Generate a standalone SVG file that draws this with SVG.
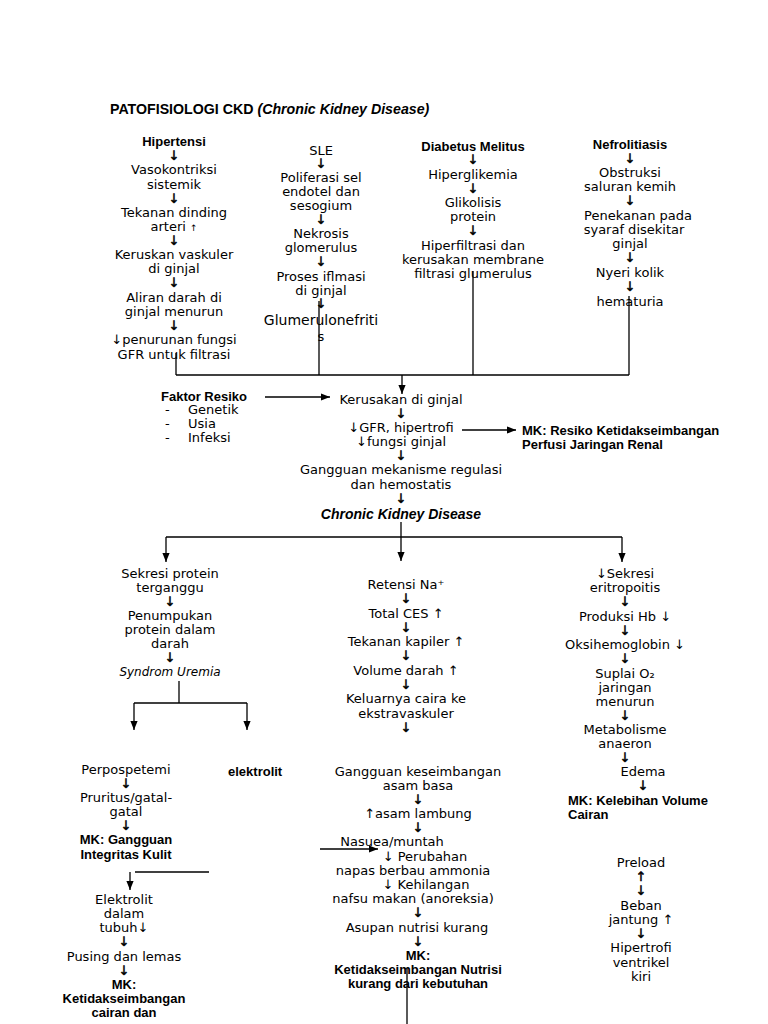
<svg xmlns="http://www.w3.org/2000/svg" width="768" height="1024" viewBox="0 0 768 1024">
<style>
.t{font-family:"DejaVu Sans",sans-serif;font-size:13px;text-anchor:middle;fill:#000}
.a{font-family:"DejaVu Sans",sans-serif;font-size:13px;text-anchor:middle;fill:#000;stroke:#000;stroke-width:0.5;text-rendering:geometricPrecision}
.l{font-family:"DejaVu Sans",sans-serif;font-size:13px;fill:#000}
.b{font-family:"Liberation Sans",Arial,sans-serif;font-weight:bold;font-size:13px;text-anchor:middle;fill:#000}
.bl{font-family:"Liberation Sans",Arial,sans-serif;font-weight:bold;font-size:13px;fill:#000}
.c{stroke:#000;stroke-width:1.3;fill:none}
</style>
<defs>
<marker id="ah" viewBox="0 0 10 8" refX="10" refY="4" markerWidth="9" markerHeight="8" orient="auto" markerUnits="userSpaceOnUse">
<path d="M0,0 L10,4 L0,8 z" fill="#000"/>
</marker>
</defs>
<rect width="768" height="1024" fill="#fff"/>
<g id="title">
<text x="110" y="114" class="bl" style="font-size:14.2px">PATOFISIOLOGI CKD <tspan font-style="italic">(Chronic Kidney Disease)</tspan></text>
</g>

<g id="hipertensi">
<text x="174" y="146" class="b">Hipertensi</text>
<text class="a" x="174" y="160">↓</text>
<text class="t" x="174" y="174">Vasokontriksi</text>
<text class="t" x="174" y="189">sistemik</text>
<text class="a" x="174" y="203">↓</text>
<text class="t" x="174" y="217">Tekanan dinding</text>
<text class="t" x="174" y="231">arteri <tspan font-size="9">↑</tspan></text>
<text class="a" x="174" y="245">↓</text>
<text class="t" x="174" y="259">Keruskan vaskuler</text>
<text class="t" x="174" y="273">di ginjal</text>
<text class="a" x="174" y="287">↓</text>
<text class="t" x="174" y="302">Aliran darah di</text>
<text class="t" x="174" y="316">ginjal menurun</text>
<text class="a" x="174" y="330">↓</text>
<text class="t" x="174" y="344">↓penurunan fungsi</text>
<text class="t" x="174" y="359">GFR untuk filtrasi</text>
</g>

<g id="sle">
<text class="t" x="321" y="155">SLE</text>
<text class="a" x="321" y="168">↓</text>
<text class="t" x="321" y="182">Poliferasi sel</text>
<text class="t" x="321" y="196">endotel dan</text>
<text class="t" x="321" y="210">sesogium</text>
<text class="a" x="321" y="224">↓</text>
<text class="t" x="321" y="238">Nekrosis</text>
<text class="t" x="321" y="252">glomerulus</text>
<text class="a" x="321" y="266">↓</text>
<text class="t" x="321" y="281">Proses iflmasi</text>
<text class="t" x="321" y="295">di ginjal</text>
<text class="a" x="321" y="308">↓</text>
<text class="t" x="321" y="325" style="font-size:14px">Glumerulonefriti</text>
<text class="t" x="321" y="341">s</text>
</g>

<g id="diabetes">
<text x="473" y="151" class="b">Diabetus Melitus</text>
<text class="a" x="473" y="164">↓</text>
<text class="t" x="473" y="179">Hiperglikemia</text>
<text class="a" x="473" y="193">↓</text>
<text class="t" x="473" y="207">Glikolisis</text>
<text class="t" x="473" y="221">protein</text>
<text class="a" x="473" y="235">↓</text>
<text class="t" x="473" y="250">Hiperfiltrasi dan</text>
<text class="t" x="473" y="264">kerusakan membrane</text>
<text class="t" x="473" y="278">filtrasi glumerulus</text>
</g>

<g id="nefrolitiasis">
<text x="630" y="149" class="b">Nefrolitiasis</text>
<text class="a" x="630" y="163">↓</text>
<text class="t" x="630" y="177">Obstruksi</text>
<text class="t" x="630" y="191">saluran kemih</text>
<text class="a" x="630" y="205">↓</text>
<text class="t" x="638" y="220">Penekanan pada</text>
<text class="t" x="634" y="234">syaraf disekitar</text>
<text class="t" x="630" y="248">ginjal</text>
<text class="a" x="630" y="262">↓</text>
<text class="t" x="630" y="277">Nyeri kolik</text>
<text class="a" x="630" y="291">↓</text>
<text class="t" x="630" y="306">hematuria</text>
</g>

<g id="faktor">
<text x="161" y="401" class="bl">Faktor Resiko</text>
<text class="l" x="165" y="414">-</text><text class="l" x="188" y="414">Genetik</text>
<text class="l" x="165" y="428">-</text><text class="l" x="188" y="428">Usia</text>
<text class="l" x="165" y="442">-</text><text class="l" x="188" y="442">Infeksi</text>
</g>

<g id="kerusakan">
<text class="t" x="401" y="404">Kerusakan di ginjal</text>
<text class="a" x="401" y="418">↓</text>
<text class="t" x="401" y="432">↓GFR, hipertrofi</text>
<text class="t" x="401" y="446">↓fungsi ginjal</text>
<text class="a" x="401" y="460">↓</text>
<text class="t" x="401" y="474">Gangguan mekanisme regulasi</text>
<text class="t" x="401" y="489">dan hemostatis</text>
<text class="a" x="401" y="503">↓</text>
<text x="401" y="519" class="b" font-style="italic" style="font-size:14px">Chronic Kidney Disease</text>
</g>

<g id="mk-perfusi">
<text x="522" y="435" class="bl">MK: Resiko Ketidakseimbangan</text>
<text x="522" y="449" class="bl">Perfusi Jaringan Renal</text>
</g>

<g id="uremia">
<text class="t" x="170" y="578">Sekresi protein</text>
<text class="t" x="170" y="592">terganggu</text>
<text class="a" x="170" y="606">↓</text>
<text class="t" x="170" y="620">Penumpukan</text>
<text class="t" x="170" y="634">protein dalam</text>
<text class="t" x="170" y="648">darah</text>
<text class="a" x="170" y="662">↓</text>
<text class="t" x="170" y="676" font-style="italic" style="font-size:12px">Syndrom Uremia</text>
</g>

<g id="retensi">
<text class="t" x="406" y="589">Retensi Na⁺</text>
<text class="a" x="406" y="603">↓</text>
<text class="t" x="406" y="618">Total CES ↑</text>
<text class="a" x="406" y="632">↓</text>
<text class="t" x="406" y="646">Tekanan kapiler ↑</text>
<text class="a" x="406" y="660">↓</text>
<text class="t" x="406" y="675">Volume darah ↑</text>
<text class="a" x="406" y="689">↓</text>
<text class="t" x="406" y="703">Keluarnya caira ke</text>
<text class="t" x="406" y="718">ekstravaskuler</text>
<text class="a" x="406" y="732">↓</text>
</g>

<g id="eritropoitis">
<text class="t" x="625" y="578">↓Sekresi</text>
<text class="t" x="625" y="592">eritropoitis</text>
<text class="a" x="625" y="606">↓</text>
<text class="t" x="625" y="621">Produksi Hb ↓</text>
<text class="a" x="625" y="635">↓</text>
<text class="t" x="625" y="649">Oksihemoglobin ↓</text>
<text class="a" x="625" y="663">↓</text>
<text class="t" x="625" y="678">Suplai O₂</text>
<text class="t" x="625" y="692">jaringan</text>
<text class="t" x="625" y="706">menurun</text>
<text class="a" x="625" y="720">↓</text>
<text class="t" x="625" y="734">Metabolisme</text>
<text class="t" x="625" y="748">anaeron</text>
<text class="a" x="625" y="762">↓</text>
<text class="t" x="643" y="776">Edema</text>
<text class="a" x="643" y="790">↓</text>
<text x="568" y="805" class="bl">MK: Kelebihan Volume</text>
<text x="568" y="819" class="bl">Cairan</text>
</g>

<g id="perpospetemi">
<text class="t" x="126" y="774">Perpospetemi</text>
<text class="a" x="126" y="788">↓</text>
<text class="t" x="126" y="802">Pruritus/gatal-</text>
<text class="t" x="126" y="816">gatal</text>
<text class="a" x="126" y="830">↓</text>
<text x="126" y="844" class="b">MK: Gangguan</text>
<text x="126" y="859" class="b">Integritas Kulit</text>
</g>

<g id="elektrolit">
<text x="228" y="776" class="bl">elektrolit</text>
</g>

<g id="elektrolit-tubuh">
<text class="t" x="124" y="904">Elektrolit</text>
<text class="t" x="124" y="918">dalam</text>
<text class="t" x="124" y="932">tubuh↓</text>
<text class="a" x="124" y="946">↓</text>
<text class="t" x="124" y="961">Pusing dan lemas</text>
<text class="a" x="124" y="975">↓</text>
<text x="124" y="989" class="b">MK:</text>
<text x="124" y="1003" class="b">Ketidakseimbangan</text>
<text x="124" y="1017" class="b">cairan dan</text>
</g>

<g id="asam-basa">
<text class="t" x="418" y="776">Gangguan keseimbangan</text>
<text class="t" x="418" y="790">asam basa</text>
<text class="a" x="418" y="804">↓</text>
<text class="t" x="418" y="818">↑asam lambung</text>
<text class="a" x="418" y="832">↓</text>
<text class="t" x="392" y="846">Nasuea/muntah</text>
<text class="t" x="425" y="861">↓ Perubahan</text>
<text class="t" x="413" y="875">napas berbau ammonia</text>
<text class="t" x="426" y="889">↓ Kehilangan</text>
<text class="t" x="413" y="903">nafsu makan (anoreksia)</text>
<text class="a" x="418" y="917">↓</text>
<text class="t" x="417" y="932">Asupan nutrisi kurang</text>
<text class="a" x="418" y="946">↓</text>
<text x="418" y="960" class="b">MK:</text>
<text x="418" y="974" class="b">Ketidakseimbangan Nutrisi</text>
<text x="418" y="988" class="b">kurang dari kebutuhan</text>
</g>

<g id="preload">
<text class="t" x="641" y="867">Preload</text>
<text class="a" x="641" y="881">↑</text>
<text class="a" x="641" y="895">↓</text>
<text class="t" x="641" y="910">Beban</text>
<text class="t" x="641" y="924">jantung ↑</text>
<text class="a" x="641" y="938">↓</text>
<text class="t" x="641" y="952">Hipertrofi</text>
<text class="t" x="641" y="967">ventrikel</text>
<text class="t" x="641" y="981">kiri</text>
</g>

<g id="connectors" class="c">
<path class="c" d="M176,353 V375"/>
<path class="c" d="M319,301 V375"/>
<path class="c" d="M473,271 V375"/>
<path class="c" d="M629,296 V375"/>
<path class="c" d="M176,375 H629"/>
<path class="c" d="M402,375 V394" marker-end="url(#ah)"/>
<path class="c" d="M265,397 H330" marker-end="url(#ah)"/>
<path class="c" d="M462,430 H516" marker-end="url(#ah)"/>
<path class="c" d="M401,522 V561" marker-end="url(#ah)"/>
<path class="c" d="M166,537 H622"/>
<path class="c" d="M166,537 V562" marker-end="url(#ah)"/>
<path class="c" d="M622,537 V562" marker-end="url(#ah)"/>
<path class="c" d="M179,681 V703"/>
<path class="c" d="M134,703 H247"/>
<path class="c" d="M134,703 V730" marker-end="url(#ah)"/>
<path class="c" d="M247,703 V730" marker-end="url(#ah)"/>
<path class="c" d="M135,872 H209"/>
<path class="c" d="M130,872 V890" marker-end="url(#ah)"/>
<path class="c" d="M320,849 H378" marker-end="url(#ah)"/>
<path class="c" d="M407,968 V1024"/>
</g>
</svg>
